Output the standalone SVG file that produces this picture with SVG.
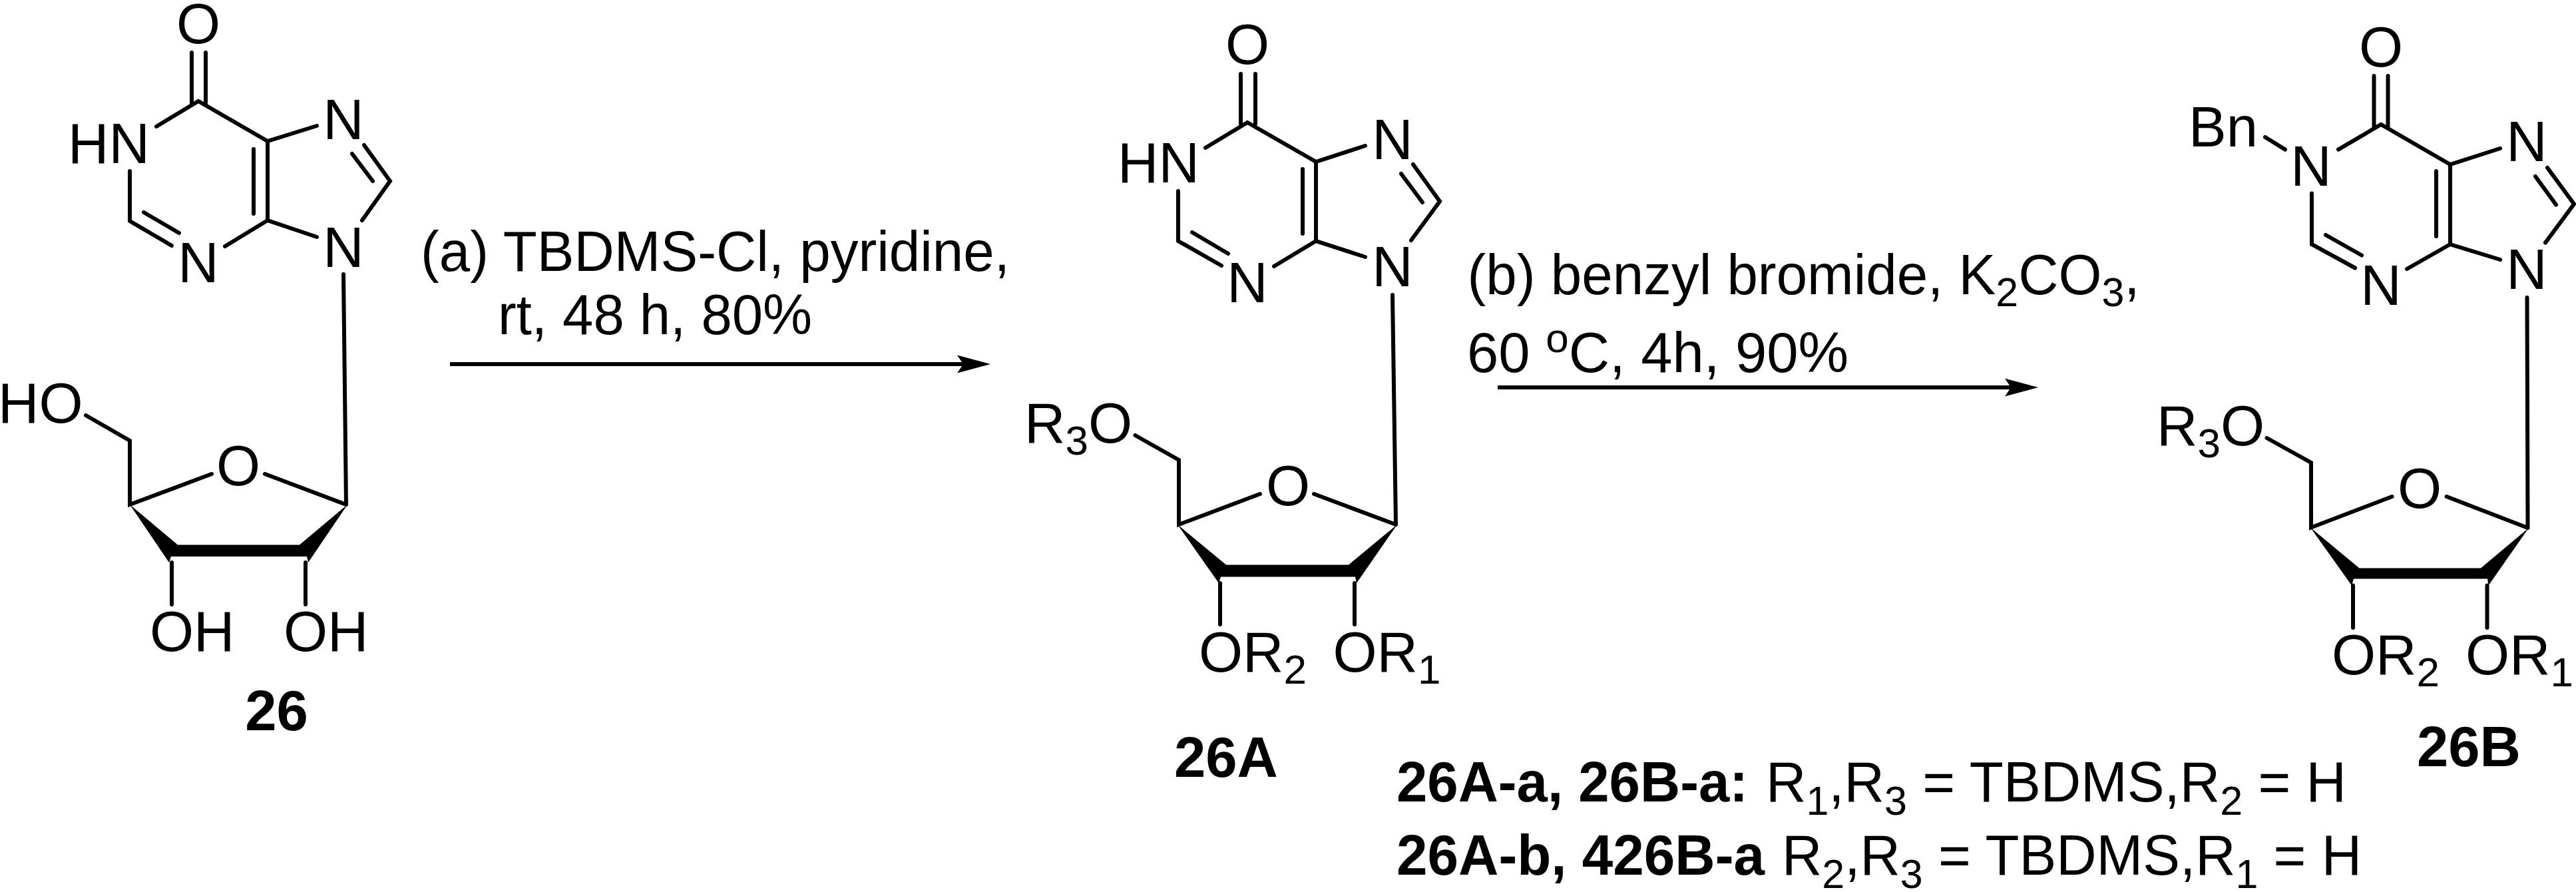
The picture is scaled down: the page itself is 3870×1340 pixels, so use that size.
<svg xmlns="http://www.w3.org/2000/svg" width="3870" height="1340" viewBox="0 0 3870 1340">
<style>
text{font-family:"Liberation Sans",Arial,sans-serif;font-size:85px;fill:#000}
.m{text-anchor:middle}
.b{font-weight:700}
.s{font-size:62px}
.bond{fill:none;stroke:#000;stroke-width:6;stroke-linecap:round;stroke-linejoin:miter}
.wedge{fill:#000;stroke:none}
.arrow{fill:none;stroke:#000;stroke-width:6;marker-end:url(#head)}
</style>
<defs>
<marker id="head" markerUnits="userSpaceOnUse" markerWidth="52" markerHeight="30" refX="9" refY="14" orient="auto">
<path d="M0 0.5L50 14L0 27.5L9 14Z" fill="#000"/>
</marker>
</defs>
<rect width="3870" height="1340" fill="#fff"/>
<g id="connectors">
<line class="arrow" x1="676" y1="547" x2="1447" y2="547"/>
<line class="arrow" x1="2250" y1="582" x2="3021" y2="582"/>
</g>
<g id="node-26">
<path class="bond" d="M288 79V155M309 79V155M235 190L298 152L402 212L476 189M402 212V331L476 356M381 224V321M402 331L338 370M195 257V332L258 369M216 319L269 350M547 218L586 272L544 331M529 231L560 272M516 412L520 758M129 624L195 662V758L318 712M398 712L520 758M258 845V908M459 845V908"/>
<polygon class="wedge" points="195,758 267,818.5 450,818.5 522,758 463,845 461,836 257,836 254,845"/>
<text class="m" x="298" y="65">O</text>
<text x="102" y="245">HN</text>
<text class="m" x="298" y="424">N</text>
<text class="m" x="516" y="208.5">N</text>
<text class="m" x="516" y="401">N</text>
<text x="-3" y="635">HO</text>
<text class="m" x="358" y="729">O</text>
<text x="225" y="978">OH</text>
<text x="426" y="978">OH</text>
<text class="m b" x="415.5" y="1097">26</text>
</g>
<g id="reagent-a">
<text x="632" y="407" textLength="885" lengthAdjust="spacingAndGlyphs">(a) TBDMS-Cl, pyridine,</text>
<text x="748" y="502" textLength="472" lengthAdjust="spacingAndGlyphs">rt, 48 h, 80%</text>
</g>
<g id="node-26A">
<path class="bond" d="M1864 111V186M1886 111V186M1811 222L1874 184L1977 243L2051 219M1977 243V362L2051 386M1957 254V351M1977 362L1914 400M1770 287V362L1835 399M1791 349L1845 381M2123 247L2163 302.5L2120 361M2105 261L2137 304M2092 443L2097 788M1705.5 654L1771 691V788L1893 742M1974 742L2097 788M1833 876V938M2035 876V938"/>
<polygon class="wedge" points="1769,788 1842,848.5 2026,848.5 2099,788 2038,876 2036,866.5 1834,866.5 1831,876"/>
<text class="m" x="1874" y="96">O</text>
<text x="1679" y="274">HN</text>
<text class="m" x="1874" y="453.5">N</text>
<text class="m" x="2092" y="238.5">N</text>
<text class="m" x="2092" y="430">N</text>
<text x="1539" y="664.5">R<tspan class="s" dy="18">3</tspan><tspan dy="-18">O</tspan></text>
<text class="m" x="1935" y="759">O</text>
<text x="1801" y="1008.5">OR<tspan class="s" dy="18">2</tspan></text>
<text x="2002.5" y="1008.5">OR<tspan class="s" dy="18">1</tspan></text>
<text class="m b" x="1842" y="1166.5">26A</text>
</g>
<g id="reagent-b">
<text x="2204.5" y="442" textLength="1010" lengthAdjust="spacingAndGlyphs">(b) benzyl bromide, K<tspan class="s" dy="18">2</tspan><tspan dy="-18">CO</tspan><tspan class="s" dy="18">3</tspan><tspan dy="-18">,</tspan></text>
<text x="2204" y="559">60 <tspan class="s" dy="-30">o</tspan><tspan dy="30">C, 4h, 90%</tspan></text>
</g>
<g id="node-26B">
<path class="bond" d="M3566.5 114V190M3587.5 114V190M3513 224.6L3577 187L3681 247L3756 223M3681 247V367L3756 390M3660 257V355M3681 367L3616 404M3473 290.6V367L3538 402.5M3494 353L3548 383.5M3827 252L3867 306.5L3824 364.6M3809 265L3840 307.6M3796.5 447L3797.5 793M3403 206L3433 224.6M3405.5 658L3472 695V792.5L3593.6 746M3675.6 746L3797.5 793M3535 879.5V943M3736.5 879.5V943"/>
<polygon class="wedge" points="3471,792.5 3544.5,853.4 3727,853.4 3799,793 3738.5,879.5 3737,869.6 3536,869.6 3533,879.5"/>
<text class="m" x="3577" y="100">O</text>
<text x="3288" y="219.5">Bn</text>
<text class="m" x="3472" y="279">N</text>
<text class="m" x="3577" y="457.5">N</text>
<text class="m" x="3796" y="242">N</text>
<text class="m" x="3796" y="434">N</text>
<text x="3240" y="669">R<tspan class="s" dy="18">3</tspan><tspan dy="-18">O</tspan></text>
<text class="m" x="3635" y="763">O</text>
<text x="3503" y="1012.5">OR<tspan class="s" dy="18">2</tspan></text>
<text x="3704" y="1012.5">OR<tspan class="s" dy="18">1</tspan></text>
<text class="m b" x="3709" y="1151">26B</text>
</g>
<g id="legend">
<text class="b" x="2098" y="1204" textLength="528" lengthAdjust="spacingAndGlyphs">26A-a, 26B-a:</text>
<text x="2653" y="1204" textLength="872" lengthAdjust="spacingAndGlyphs">R<tspan class="s" dy="20">1</tspan><tspan dy="-20">,R</tspan><tspan class="s" dy="20">3</tspan><tspan dy="-20"> = TBDMS,R</tspan><tspan class="s" dy="20">2</tspan><tspan dy="-20"> = H</tspan></text>
<text class="b" x="2098" y="1314" textLength="553" lengthAdjust="spacingAndGlyphs">26A-b, 426B-a</text>
<text x="2677" y="1314" textLength="871" lengthAdjust="spacingAndGlyphs">R<tspan class="s" dy="20">2</tspan><tspan dy="-20">,R</tspan><tspan class="s" dy="20">3</tspan><tspan dy="-20"> = TBDMS,R</tspan><tspan class="s" dy="20">1</tspan><tspan dy="-20"> = H</tspan></text>
</g>
</svg>
